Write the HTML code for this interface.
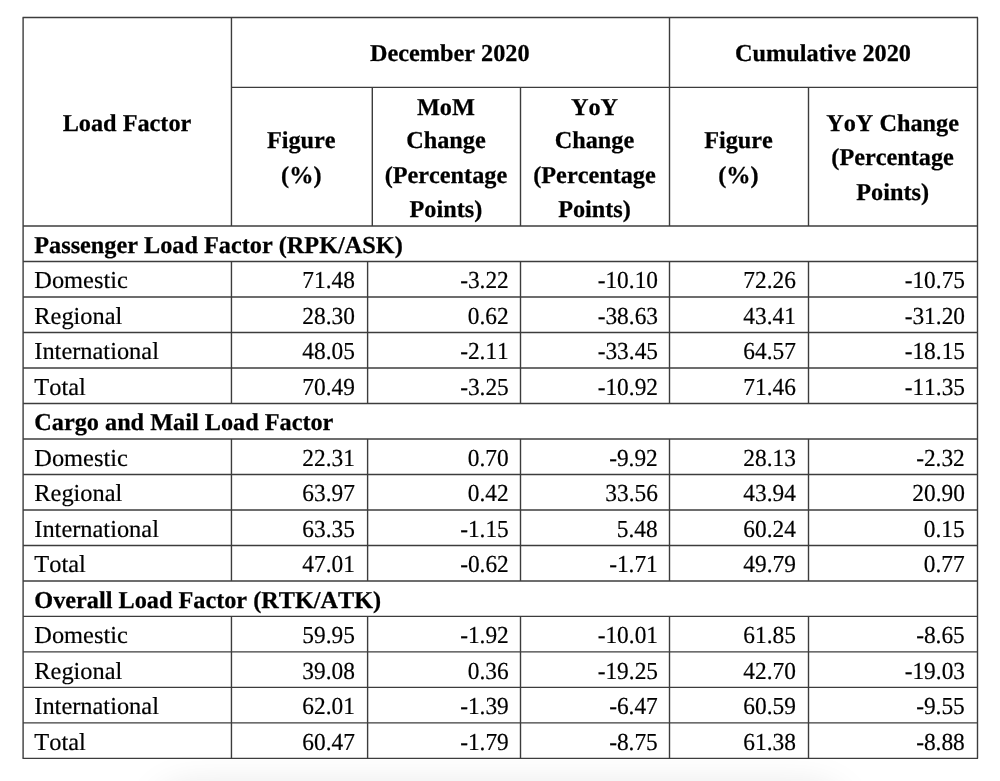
<!DOCTYPE html>
<html lang="en">
<head>
<meta charset="utf-8">
<title>Load Factor</title>
<style>
html,body{margin:0;padding:0;background:#fff;}
body{width:1000px;height:781px;position:relative;overflow:hidden;font-family:"Liberation Serif",serif;color:#000;}
#grid{position:absolute;left:0;top:0;width:1000px;height:781px;}
#grid line{stroke:#3c3c3c;stroke-width:1.4;}
.t{position:absolute;font-size:24.4px;line-height:34px;height:34px;white-space:nowrap;font-weight:400;text-rendering:geometricPrecision;font-kerning:none;}
.t{-webkit-text-stroke:0.2px #000;}
.b{font-weight:700;font-size:24.25px;-webkit-text-stroke:0.25px #000;}
.n{transform:scaleX(0.958);transform-origin:100% 50%;}
#txt{position:absolute;left:0;top:0;width:1000px;height:781px;will-change:transform;}
#shadow{position:absolute;left:168px;width:664px;top:800px;height:40px;border-radius:20px;box-shadow:0 0 38px 12px rgba(0,0,0,0.115);}
</style>
</head>
<body>
<div id="shadow"></div>
<svg id="grid" width="1000" height="781" viewBox="0 0 1000 781">
<line x1="22.6" y1="17.55" x2="978" y2="17.55"/>
<line x1="22.6" y1="758.39" x2="978" y2="758.39"/>
<line x1="23.1" y1="17.55" x2="23.1" y2="758.39"/>
<line x1="977.5" y1="17.55" x2="977.5" y2="758.39"/>
<line x1="231.45" y1="87.4" x2="977.5" y2="87.4"/>
<line x1="231.45" y1="17.55" x2="231.45" y2="226"/>
<line x1="669.5" y1="17.55" x2="669.5" y2="226"/>
<line x1="372.3" y1="87.4" x2="372.3" y2="226"/>
<line x1="520.5" y1="87.4" x2="520.5" y2="226"/>
<line x1="808.5" y1="87.4" x2="808.5" y2="226"/>
<line x1="23.1" y1="226" x2="977.5" y2="226"/>
<line x1="23.1" y1="261.49" x2="977.5" y2="261.49"/>
<line x1="23.1" y1="296.99" x2="977.5" y2="296.99"/>
<line x1="23.1" y1="332.48" x2="977.5" y2="332.48"/>
<line x1="23.1" y1="367.97" x2="977.5" y2="367.97"/>
<line x1="23.1" y1="403.47" x2="977.5" y2="403.47"/>
<line x1="23.1" y1="438.96" x2="977.5" y2="438.96"/>
<line x1="23.1" y1="474.45" x2="977.5" y2="474.45"/>
<line x1="23.1" y1="509.94" x2="977.5" y2="509.94"/>
<line x1="23.1" y1="545.44" x2="977.5" y2="545.44"/>
<line x1="23.1" y1="580.93" x2="977.5" y2="580.93"/>
<line x1="23.1" y1="616.42" x2="977.5" y2="616.42"/>
<line x1="23.1" y1="651.92" x2="977.5" y2="651.92"/>
<line x1="23.1" y1="687.41" x2="977.5" y2="687.41"/>
<line x1="23.1" y1="722.9" x2="977.5" y2="722.9"/>
<line x1="231.45" y1="261.49" x2="231.45" y2="296.99"/>
<line x1="367.6" y1="261.49" x2="367.6" y2="296.99"/>
<line x1="520.5" y1="261.49" x2="520.5" y2="296.99"/>
<line x1="669.5" y1="261.49" x2="669.5" y2="296.99"/>
<line x1="808.5" y1="261.49" x2="808.5" y2="296.99"/>
<line x1="231.45" y1="296.99" x2="231.45" y2="332.48"/>
<line x1="367.6" y1="296.99" x2="367.6" y2="332.48"/>
<line x1="520.5" y1="296.99" x2="520.5" y2="332.48"/>
<line x1="669.5" y1="296.99" x2="669.5" y2="332.48"/>
<line x1="808.5" y1="296.99" x2="808.5" y2="332.48"/>
<line x1="231.45" y1="332.48" x2="231.45" y2="367.97"/>
<line x1="367.6" y1="332.48" x2="367.6" y2="367.97"/>
<line x1="520.5" y1="332.48" x2="520.5" y2="367.97"/>
<line x1="669.5" y1="332.48" x2="669.5" y2="367.97"/>
<line x1="808.5" y1="332.48" x2="808.5" y2="367.97"/>
<line x1="231.45" y1="367.97" x2="231.45" y2="403.47"/>
<line x1="367.6" y1="367.97" x2="367.6" y2="403.47"/>
<line x1="520.5" y1="367.97" x2="520.5" y2="403.47"/>
<line x1="669.5" y1="367.97" x2="669.5" y2="403.47"/>
<line x1="808.5" y1="367.97" x2="808.5" y2="403.47"/>
<line x1="231.45" y1="438.96" x2="231.45" y2="474.45"/>
<line x1="367.6" y1="438.96" x2="367.6" y2="474.45"/>
<line x1="520.5" y1="438.96" x2="520.5" y2="474.45"/>
<line x1="669.5" y1="438.96" x2="669.5" y2="474.45"/>
<line x1="808.5" y1="438.96" x2="808.5" y2="474.45"/>
<line x1="231.45" y1="474.45" x2="231.45" y2="509.94"/>
<line x1="367.6" y1="474.45" x2="367.6" y2="509.94"/>
<line x1="520.5" y1="474.45" x2="520.5" y2="509.94"/>
<line x1="669.5" y1="474.45" x2="669.5" y2="509.94"/>
<line x1="808.5" y1="474.45" x2="808.5" y2="509.94"/>
<line x1="231.45" y1="509.94" x2="231.45" y2="545.44"/>
<line x1="367.6" y1="509.94" x2="367.6" y2="545.44"/>
<line x1="520.5" y1="509.94" x2="520.5" y2="545.44"/>
<line x1="669.5" y1="509.94" x2="669.5" y2="545.44"/>
<line x1="808.5" y1="509.94" x2="808.5" y2="545.44"/>
<line x1="231.45" y1="545.44" x2="231.45" y2="580.93"/>
<line x1="367.6" y1="545.44" x2="367.6" y2="580.93"/>
<line x1="520.5" y1="545.44" x2="520.5" y2="580.93"/>
<line x1="669.5" y1="545.44" x2="669.5" y2="580.93"/>
<line x1="808.5" y1="545.44" x2="808.5" y2="580.93"/>
<line x1="231.45" y1="616.42" x2="231.45" y2="651.92"/>
<line x1="367.6" y1="616.42" x2="367.6" y2="651.92"/>
<line x1="520.5" y1="616.42" x2="520.5" y2="651.92"/>
<line x1="669.5" y1="616.42" x2="669.5" y2="651.92"/>
<line x1="808.5" y1="616.42" x2="808.5" y2="651.92"/>
<line x1="231.45" y1="651.92" x2="231.45" y2="687.41"/>
<line x1="367.6" y1="651.92" x2="367.6" y2="687.41"/>
<line x1="520.5" y1="651.92" x2="520.5" y2="687.41"/>
<line x1="669.5" y1="651.92" x2="669.5" y2="687.41"/>
<line x1="808.5" y1="651.92" x2="808.5" y2="687.41"/>
<line x1="231.45" y1="687.41" x2="231.45" y2="722.9"/>
<line x1="367.6" y1="687.41" x2="367.6" y2="722.9"/>
<line x1="520.5" y1="687.41" x2="520.5" y2="722.9"/>
<line x1="669.5" y1="687.41" x2="669.5" y2="722.9"/>
<line x1="808.5" y1="687.41" x2="808.5" y2="722.9"/>
<line x1="231.45" y1="722.9" x2="231.45" y2="758.39"/>
<line x1="367.6" y1="722.9" x2="367.6" y2="758.39"/>
<line x1="520.5" y1="722.9" x2="520.5" y2="758.39"/>
<line x1="669.5" y1="722.9" x2="669.5" y2="758.39"/>
<line x1="808.5" y1="722.9" x2="808.5" y2="758.39"/>
</svg>
<div id="txt">
<div class="t b" style="left:-23px;width:300px;top:107px;text-align:center">Load Factor</div>
<div class="t b" style="left:299.8px;width:300px;top:37px;text-align:center">December 2020</div>
<div class="t b" style="left:673px;width:300px;top:37px;text-align:center">Cumulative 2020</div>
<div class="t b" style="left:151.3px;width:300px;top:124px;text-align:center">Figure</div>
<div class="t b" style="left:151.3px;width:300px;top:159px;text-align:center">(%)</div>
<div class="t b" style="left:295.9px;width:300px;top:91px;text-align:center">MoM</div>
<div class="t b" style="left:295.9px;width:300px;top:124px;text-align:center">Change</div>
<div class="t b" style="left:295.9px;width:300px;top:159px;text-align:center">(Percentage</div>
<div class="t b" style="left:295.9px;width:300px;top:193px;text-align:center">Points)</div>
<div class="t b" style="left:444.5px;width:300px;top:91px;text-align:center">YoY</div>
<div class="t b" style="left:444.5px;width:300px;top:124px;text-align:center">Change</div>
<div class="t b" style="left:444.5px;width:300px;top:159px;text-align:center">(Percentage</div>
<div class="t b" style="left:444.5px;width:300px;top:193px;text-align:center">Points)</div>
<div class="t b" style="left:588.5px;width:300px;top:124px;text-align:center">Figure</div>
<div class="t b" style="left:588.5px;width:300px;top:159px;text-align:center">(%)</div>
<div class="t b" style="left:742.6px;width:300px;top:107px;text-align:center">YoY Change</div>
<div class="t b" style="left:742.6px;width:300px;top:141px;text-align:center">(Percentage</div>
<div class="t b" style="left:742.6px;width:300px;top:176px;text-align:center">Points)</div>
<div class="t b" style="left:34.3px;top:229px">Passenger Load Factor (RPK/ASK)</div>
<div class="t" style="left:34.3px;top:264px">Domestic</div>
<div class="t n" style="right:644.8px;top:264px;text-align:right">71.48</div>
<div class="t n" style="right:491.4px;top:264px;text-align:right">-3.22</div>
<div class="t n" style="right:342.4px;top:264px;text-align:right">-10.10</div>
<div class="t n" style="right:204px;top:264px;text-align:right">72.26</div>
<div class="t n" style="right:35px;top:264px;text-align:right">-10.75</div>
<div class="t" style="left:34.3px;top:300px">Regional</div>
<div class="t n" style="right:644.8px;top:300px;text-align:right">28.30</div>
<div class="t n" style="right:491.4px;top:300px;text-align:right">0.62</div>
<div class="t n" style="right:342.4px;top:300px;text-align:right">-38.63</div>
<div class="t n" style="right:204px;top:300px;text-align:right">43.41</div>
<div class="t n" style="right:35px;top:300px;text-align:right">-31.20</div>
<div class="t" style="left:34.3px;top:335px">International</div>
<div class="t n" style="right:644.8px;top:335px;text-align:right">48.05</div>
<div class="t n" style="right:491.4px;top:335px;text-align:right">-2.11</div>
<div class="t n" style="right:342.4px;top:335px;text-align:right">-33.45</div>
<div class="t n" style="right:204px;top:335px;text-align:right">64.57</div>
<div class="t n" style="right:35px;top:335px;text-align:right">-18.15</div>
<div class="t" style="left:34.3px;top:371px">Total</div>
<div class="t n" style="right:644.8px;top:371px;text-align:right">70.49</div>
<div class="t n" style="right:491.4px;top:371px;text-align:right">-3.25</div>
<div class="t n" style="right:342.4px;top:371px;text-align:right">-10.92</div>
<div class="t n" style="right:204px;top:371px;text-align:right">71.46</div>
<div class="t n" style="right:35px;top:371px;text-align:right">-11.35</div>
<div class="t b" style="left:34.3px;top:406px">Cargo and Mail Load Factor</div>
<div class="t" style="left:34.3px;top:442px">Domestic</div>
<div class="t n" style="right:644.8px;top:442px;text-align:right">22.31</div>
<div class="t n" style="right:491.4px;top:442px;text-align:right">0.70</div>
<div class="t n" style="right:342.4px;top:442px;text-align:right">-9.92</div>
<div class="t n" style="right:204px;top:442px;text-align:right">28.13</div>
<div class="t n" style="right:35px;top:442px;text-align:right">-2.32</div>
<div class="t" style="left:34.3px;top:477px">Regional</div>
<div class="t n" style="right:644.8px;top:477px;text-align:right">63.97</div>
<div class="t n" style="right:491.4px;top:477px;text-align:right">0.42</div>
<div class="t n" style="right:342.4px;top:477px;text-align:right">33.56</div>
<div class="t n" style="right:204px;top:477px;text-align:right">43.94</div>
<div class="t n" style="right:35px;top:477px;text-align:right">20.90</div>
<div class="t" style="left:34.3px;top:513px">International</div>
<div class="t n" style="right:644.8px;top:513px;text-align:right">63.35</div>
<div class="t n" style="right:491.4px;top:513px;text-align:right">-1.15</div>
<div class="t n" style="right:342.4px;top:513px;text-align:right">5.48</div>
<div class="t n" style="right:204px;top:513px;text-align:right">60.24</div>
<div class="t n" style="right:35px;top:513px;text-align:right">0.15</div>
<div class="t" style="left:34.3px;top:548px">Total</div>
<div class="t n" style="right:644.8px;top:548px;text-align:right">47.01</div>
<div class="t n" style="right:491.4px;top:548px;text-align:right">-0.62</div>
<div class="t n" style="right:342.4px;top:548px;text-align:right">-1.71</div>
<div class="t n" style="right:204px;top:548px;text-align:right">49.79</div>
<div class="t n" style="right:35px;top:548px;text-align:right">0.77</div>
<div class="t b" style="left:34.3px;top:584px">Overall Load Factor (RTK/ATK)</div>
<div class="t" style="left:34.3px;top:619px">Domestic</div>
<div class="t n" style="right:644.8px;top:619px;text-align:right">59.95</div>
<div class="t n" style="right:491.4px;top:619px;text-align:right">-1.92</div>
<div class="t n" style="right:342.4px;top:619px;text-align:right">-10.01</div>
<div class="t n" style="right:204px;top:619px;text-align:right">61.85</div>
<div class="t n" style="right:35px;top:619px;text-align:right">-8.65</div>
<div class="t" style="left:34.3px;top:655px">Regional</div>
<div class="t n" style="right:644.8px;top:655px;text-align:right">39.08</div>
<div class="t n" style="right:491.4px;top:655px;text-align:right">0.36</div>
<div class="t n" style="right:342.4px;top:655px;text-align:right">-19.25</div>
<div class="t n" style="right:204px;top:655px;text-align:right">42.70</div>
<div class="t n" style="right:35px;top:655px;text-align:right">-19.03</div>
<div class="t" style="left:34.3px;top:690px">International</div>
<div class="t n" style="right:644.8px;top:690px;text-align:right">62.01</div>
<div class="t n" style="right:491.4px;top:690px;text-align:right">-1.39</div>
<div class="t n" style="right:342.4px;top:690px;text-align:right">-6.47</div>
<div class="t n" style="right:204px;top:690px;text-align:right">60.59</div>
<div class="t n" style="right:35px;top:690px;text-align:right">-9.55</div>
<div class="t" style="left:34.3px;top:726px">Total</div>
<div class="t n" style="right:644.8px;top:726px;text-align:right">60.47</div>
<div class="t n" style="right:491.4px;top:726px;text-align:right">-1.79</div>
<div class="t n" style="right:342.4px;top:726px;text-align:right">-8.75</div>
<div class="t n" style="right:204px;top:726px;text-align:right">61.38</div>
<div class="t n" style="right:35px;top:726px;text-align:right">-8.88</div>
</div>
</body>
</html>
